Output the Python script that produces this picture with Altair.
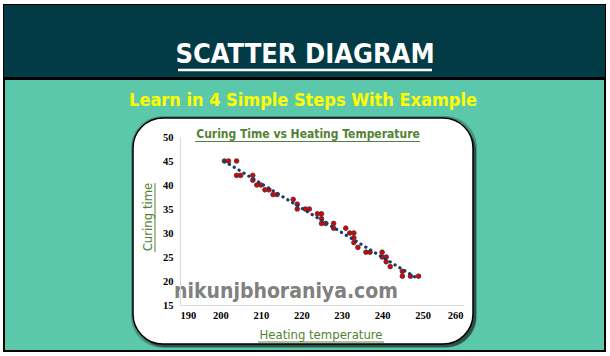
import altair as alt
import pandas as pd

# ---- data ----
temps = [201, 202, 204, 204, 205, 208, 208, 209, 210, 211, 212, 213, 214,
         218, 219, 219, 221, 222, 224, 225, 225, 225, 226, 228, 228, 231,
         232, 233, 233, 233, 234, 236, 237, 240, 240, 241, 241, 242, 245,
         245, 247, 249]
times = [45, 45, 45, 42, 42, 42, 41, 40, 40, 39, 39, 38, 38,
         37, 36, 35, 35, 35, 34, 34, 33, 32, 32, 32, 31, 31,
         30, 30, 29, 28, 27, 26, 26, 26, 25, 25, 24, 23, 22,
         21, 21, 21]
x_ticks = [190, 200, 210, 220, 230, 240, 250, 260]
y_ticks = [15, 20, 25, 30, 35, 40, 45, 50]

main_title = "SCATTER DIAGRAM"
sub_title = "Learn in  4  Simple Steps With Example"
chart_title = "Curing Time vs Heating Temperature"
x_title = "Heating temperature"
y_title = "Curing time"
watermark = "nikunjbhoraniya.com"

df = pd.DataFrame({"temp": temps, "time": times})

# ---- layout ----
OX, OY = 180, 137          # plot origin in page pixels
W, H = 283, 168            # plot area
NARROW = "DejaVu Sans Condensed, Liberation Sans Narrow, Roboto, sans-serif"
HEADER = "#023B46"
TEAL = "#5CC8AB"
GREEN = "#548235"

one = alt.Chart(pd.DataFrame({"k": [0]}))


def rect(x1, y1, x2, y2, **kw):
    return one.mark_rect(**kw).encode(
        x=alt.value(x1 - OX), x2=alt.value(x2 - OX),
        y=alt.value(y1 - OY), y2=alt.value(y2 - OY))


def rule(x1, y1, x2, y2, **kw):
    return one.mark_rule(**kw).encode(
        x=alt.value(x1 - OX), x2=alt.value(x2 - OX),
        y=alt.value(y1 - OY), y2=alt.value(y2 - OY))


def text(s, x, y, **kw):
    return one.mark_text(text=s, **kw).encode(
        x=alt.value(x - OX), y=alt.value(y - OY))


frame = rect(4, 5, 605, 351, fill=TEAL, stroke="black", strokeWidth=2)
header = rect(4, 5, 605, 78, fill=HEADER)
sep = rect(4, 77, 605, 80, fill="black")
shadow1 = rect(131, 116, 477, 348, fill="#1f3a35", opacity=0.35, cornerRadius=32)
shadow2 = rect(135, 121, 476, 347, fill="#222222", opacity=0.6, cornerRadius=30)
box = rect(133, 118, 473, 344, fill="white", stroke="black", strokeWidth=1.5,
           cornerRadius=30)

t_main = text(main_title, 305, 63, font=NARROW, fontSize=27, fontWeight="bold",
              color="white", align="center", baseline="alphabetic")
u_main = rule(178, 70, 432, 70, color="white", strokeWidth=2.5)
t_sub = text(sub_title, 303, 106, font=NARROW, fontSize=18, fontWeight="bold",
             color="#FFFF00", align="center", baseline="alphabetic")

t_chart = text(chart_title, 308, 138, font=NARROW, fontSize=12, fontWeight="bold",
               color=GREEN, align="center", baseline="alphabetic")
u_chart = rule(195, 141.5, 420, 141.5, color=GREEN, strokeWidth=1)
t_x = text(x_title, 321, 339, font=NARROW, fontSize=13, color=GREEN,
           align="center", baseline="alphabetic")
u_x = rule(258, 342, 384, 342, color=GREEN, strokeWidth=1)
t_y = text(y_title, 152, 217, font=NARROW, fontSize=13, color=GREEN,
           align="center", baseline="alphabetic", angle=270)
u_y = rule(155, 183, 155, 252, color=GREEN, strokeWidth=1)
t_wm = text(watermark, 286, 298, font=NARROW, fontSize=21, fontWeight="bold",
            color="#808080", align="center", baseline="alphabetic")

xs = alt.Scale(domain=[190, 260], nice=False, zero=False)
ys = alt.Scale(domain=[15, 50], nice=False, zero=False)
label_font = "Liberation Serif"
x_axis = alt.Axis(values=x_ticks, title=None, grid=False, ticks=False,
                  domainColor="#d9d9d9", labelFont=label_font, labelFontSize=10.5,
                  labelFontWeight="bold", labelColor="black", labelPadding=5,
                  labelOverlap=False, zindex=1)
y_axis = alt.Axis(values=y_ticks, title=None, grid=False, ticks=False,
                  domainColor="#d9d9d9", labelFont=label_font, labelFontSize=10.5,
                  labelFontWeight="bold", labelColor="black", labelPadding=7,
                  labelOverlap=False, zindex=1)

points = alt.Chart(df).mark_circle(
    size=22, fill="#E00000", stroke="#3a3a3a", strokeWidth=0.8, opacity=1
).encode(
    x=alt.X("temp:Q", scale=xs, axis=x_axis),
    y=alt.Y("time:Q", scale=ys, axis=y_axis),
)

trend = alt.Chart(df).transform_regression("temp", "time").mark_line(
    color="#1F3864", strokeWidth=3.2, strokeDash=[0.1, 5.6], strokeCap="round"
).encode(
    x=alt.X("temp:Q", scale=xs, axis=x_axis),
    y=alt.Y("time:Q", scale=ys, axis=y_axis),
)

chart = alt.layer(
    frame, header, sep, shadow1, shadow2, box,
    t_main, u_main, t_sub,
    t_chart, u_chart, t_x, u_x, t_y, u_y, t_wm,
    points, trend,
).properties(
    width=W, height=H,
    padding={"left": OX, "top": OY, "right": 610 - OX - W, "bottom": 356 - OY - H},
    autosize=alt.AutoSizeParams(type="none"),
    background="white",
).configure_view(stroke=None).configure_axis(labelOverlap=False)

chart.save("out.html", embed_options={"renderer": "svg", "actions": False})
